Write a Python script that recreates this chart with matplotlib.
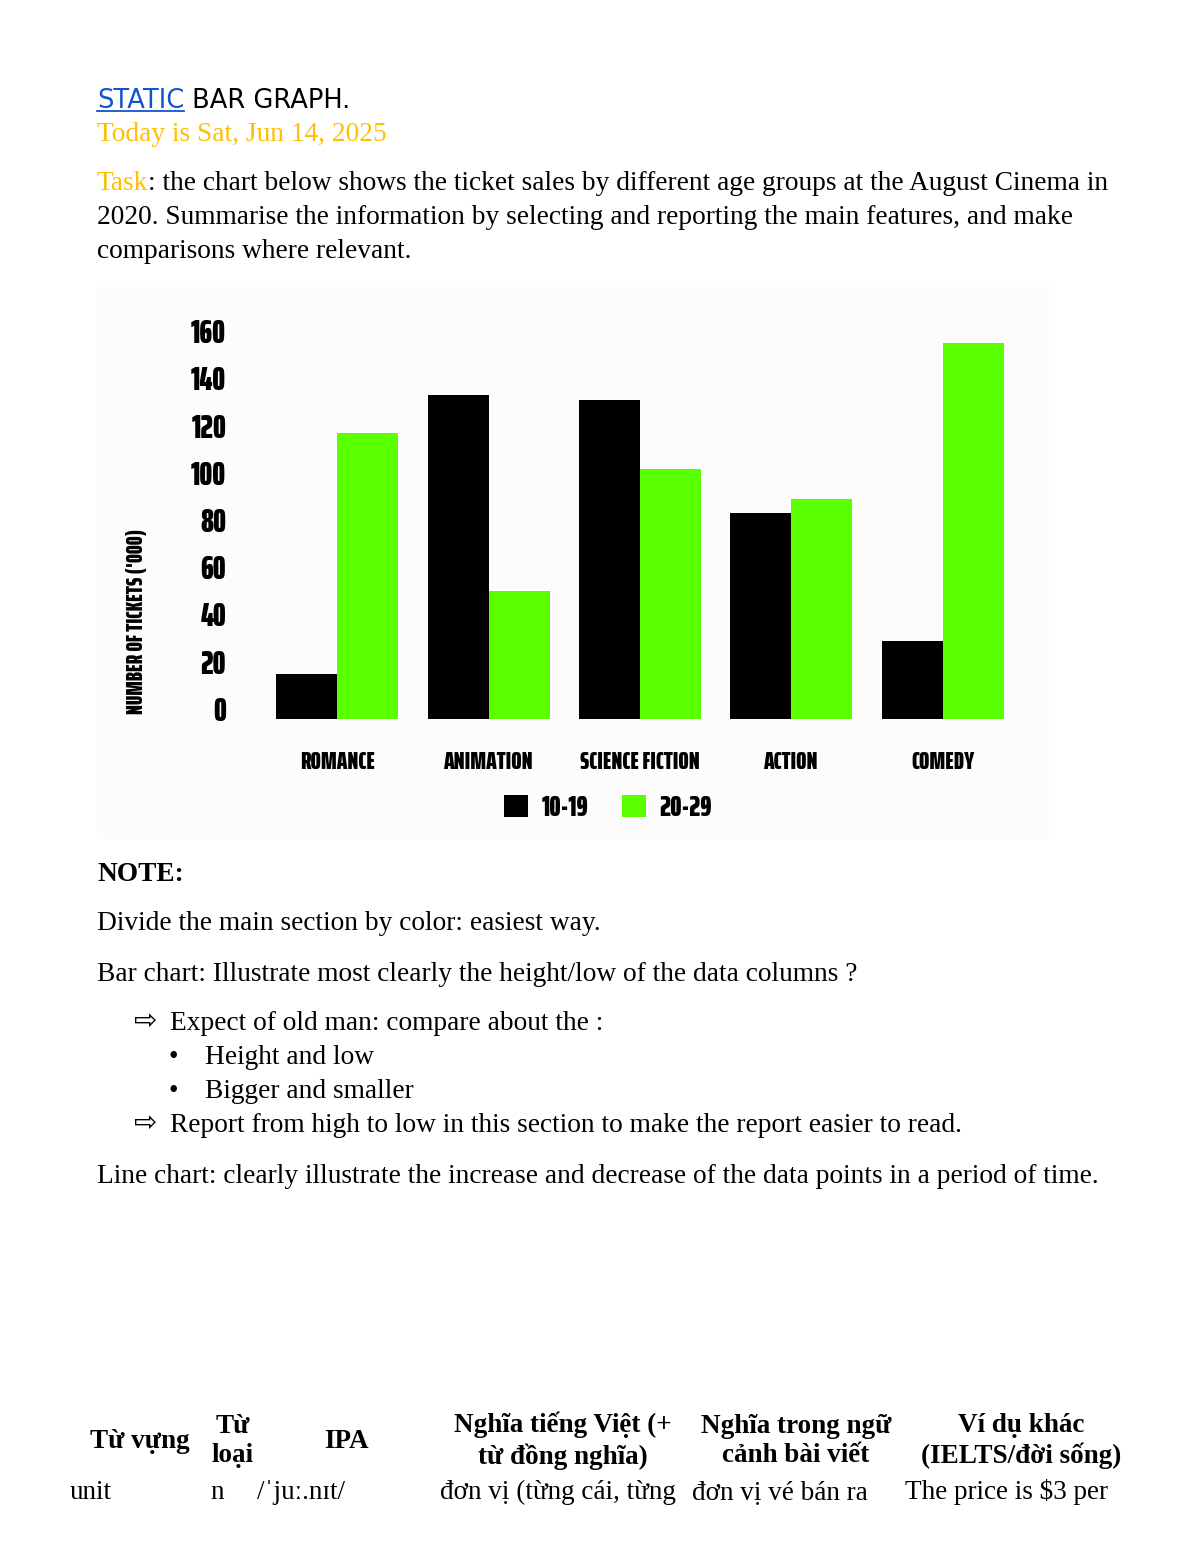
import matplotlib
matplotlib.use("Agg")
import matplotlib.pyplot as plt
import matplotlib.transforms as mtransforms
from matplotlib import font_manager as fm
import numpy as np

# chart data ('000 tickets)
genres = ["ROMANCE", "ANIMATION", "SCIENCE FICTION", "ACTION", "COMEDY"]
teens = [19, 137, 135, 87, 33]        # 10-19
twenties = [121, 54, 106, 93, 159]    # 20-29
age_groups = ["10-19", "20-29"]
yticks = [0, 20, 40, 60, 80, 100, 120, 140, 160]

# table rows under the notes
table_head = ["Từ vựng", "Từ\nloại", "IPA", "Nghĩa tiếng Việt (+\ntừ đồng nghĩa)",
              "Nghĩa trong ngữ\ncảnh bài viết", "Ví dụ khác\n(IELTS/đời sống)"]
table_row = ["unit", "n", "/ˈjuː.nɪt/", "đơn vị (từng cái, từng", "đơn vị vé bán ra",
             "The price is $3 per"]

W, H = 1200, 1553
fig = plt.figure(figsize=(W / 100, H / 100), dpi=100)
fig.patch.set_facecolor("white")
fig.canvas.draw()
r = fig.canvas.get_renderer()

def text_wh(s, fp):
    w, h, d = r.get_text_width_height_descent(s, fp, ismath=False)
    return w, h - d

# pick a bold condensed face whose proportions are closest to the chart's lettering
heavy = {"bold": 700, "heavy": 800, "black": 900, "semibold": 600, "demibold": 600,
         "extra bold": 800, "ultrabold": 800, "demi": 600}
target_ratio = 71 / 17
best, best_err = None, None
for f in fm.fontManager.ttflist:
    key = (f.name + " " + str(f.stretch) + " " + f.fname).lower()
    if not ("narrow" in key or "condensed" in key) or "mono" in key:
        continue
    w = f.weight if isinstance(f.weight, int) else heavy.get(str(f.weight).lower(), 400)
    if w < 600:
        continue
    try:
        fp = fm.FontProperties(fname=f.fname, size=20)
        tw = text_wh("ROMANCE", fp)[0]
        cap = text_wh("H", fp)[1]
    except Exception:
        continue
    err = abs(tw / cap - target_ratio)
    if best_err is None or err < best_err:
        best, best_err = f.fname, err

def chart_font(size):
    if best:
        return fm.FontProperties(fname=best, size=size)
    return fm.FontProperties(family="DejaVu Sans", weight="bold", size=size)

def fit(s, target_w, cap_px):
    # size half way between width match and cap-height match
    w10, c10 = text_wh(s, chart_font(10))[0], text_wh("H", chart_font(10))[1]
    return (10 * target_w / w10 + 10 * cap_px / c10) / 2

tick_size = fit("160", 37, 20)
cat_size = fit("ROMANCE", 71, 17)
ylab_size = fit("NUMBER OF TICKETS ('000)", 197, 14)
leg_size = fit("10-19", 46, 19)

# page axes in pixel units, y downwards
page = fig.add_axes([0, 0, 1, 1])
page.set_xlim(0, W)
page.set_ylim(H, 0)
page.axis("off")

serif = ["Liberation Serif", "DejaVu Serif"]
fs = 19.7
amber = "#ffc000"
green = "#5aff00"

# heading
t1 = page.text(97, 108, "STATIC", family="DejaVu Sans", fontsize=18.5, color="#1155cc", va="baseline")
w1 = t1.get_window_extent(renderer=r).width
page.plot([97, 97 + w1], [111, 111], color="#1155cc", lw=1.3)
page.text(97 + w1, 108, " BAR GRAPH.", family="DejaVu Sans", fontsize=18.5, color="black", va="baseline")
page.text(97, 141, "Today is Sat, Jun 14, 2025", family=serif, fontsize=fs, color=amber, va="baseline")

t2 = page.text(97, 190, "Task", family=serif, fontsize=fs, color=amber, va="baseline")
w2 = t2.get_window_extent(renderer=r).width
page.text(97 + w2, 190, ": the chart below shows the ticket sales by different age groups at the August Cinema in",
          family=serif, fontsize=fs, va="baseline")
page.text(97, 224, "2020. Summarise the information by selecting and reporting the main features, and make",
          family=serif, fontsize=fs, va="baseline")
page.text(97, 258, "comparisons where relevant.", family=serif, fontsize=fs, va="baseline")

# faint background of the pasted chart image
page.add_patch(plt.Rectangle((97, 282), 951, 556, color="#fcfcfc", zorder=0))

# chart axes: baseline at y=719 px, 2.3625 px per thousand tickets
ax_l, ax_r, ax_b, ax_t = 240, 1040, 719, 719 - 170 * 2.3625
ax = fig.add_axes([ax_l / W, 1 - ax_b / H, (ax_r - ax_l) / W, (ax_b - ax_t) / H])
ax.patch.set_alpha(0)
x = np.arange(len(genres))
bw = 0.403
b1 = ax.bar(x - bw / 2, teens, bw, color="black", label=age_groups[0])
b2 = ax.bar(x + bw / 2, twenties, bw, color=green, label=age_groups[1])
ax.set_xlim(-0.643, 4.643)
ax.set_ylim(0, 170)
for s in ax.spines.values():
    s.set_visible(False)
ax.set_yticks(yticks)
ax.set_yticklabels([str(v) for v in yticks], fontproperties=chart_font(tick_size))
ax.tick_params(axis="y", length=0, pad=10)
ax.set_xticks(x)
ax.set_xticklabels(genres, fontproperties=chart_font(cat_size))
ax.tick_params(axis="x", length=0, pad=22)
shift = mtransforms.ScaledTranslation(0, 10 / 100, fig.dpi_scale_trans)
for lab in ax.get_yticklabels():
    lab.set_transform(lab.get_transform() + shift)

page.text(137, 621, "NUMBER OF TICKETS ('000)", fontproperties=chart_font(ylab_size),
          rotation=90, ha="center", va="center")

fig.legend(handles=[b1, b2], loc="center", bbox_to_anchor=(608 / W, 1 - 808 / H), ncol=2,
           frameon=False, prop=chart_font(leg_size),
           handlelength=24 / (leg_size * 1.389), handleheight=24 / (leg_size * 1.389),
           handletextpad=14 / (leg_size * 1.389), columnspacing=33 / (leg_size * 1.389))

# notes
page.text(97, 881, "NOTE:", family=serif, fontsize=fs, fontweight="bold", va="baseline")
page.text(97, 930, "Divide the main section by color: easiest way.", family=serif, fontsize=fs, va="baseline")
page.text(97, 981, "Bar chart: Illustrate most clearly the height/low of the data columns ?",
          family=serif, fontsize=fs, va="baseline")
page.text(134, 1029, "⇨", family="DejaVu Sans", fontsize=20, va="baseline")
page.text(170, 1030, "Expect of old man: compare about the :", family=serif, fontsize=fs, va="baseline")
page.text(169, 1064, "•", family=serif, fontsize=fs, va="baseline")
page.text(205, 1064, "Height and low", family=serif, fontsize=fs, va="baseline")
page.text(169, 1098, "•", family=serif, fontsize=fs, va="baseline")
page.text(205, 1098, "Bigger and smaller", family=serif, fontsize=fs, va="baseline")
page.text(134, 1131, "⇨", family="DejaVu Sans", fontsize=20, va="baseline")
page.text(170, 1132, "Report from high to low in this section to make the report easier to read.",
          family=serif, fontsize=fs, va="baseline")
page.text(97, 1183, "Line chart: clearly illustrate the increase and decrease of the data points in a period of time.",
          family=serif, fontsize=fs, va="baseline")

# vocabulary table
head_x = [140, 233, 346, 563, 796, 1021]
for hx, h in zip(head_x, table_head):
    page.text(hx, 1441, h, family=serif, fontsize=19.5, fontweight="bold", ha="center", va="center",
              linespacing=1.25)
row_x = [70, 210, 257, 440, 692, 905]
for rx, c in zip(row_x, table_row):
    page.text(rx, 1499, c, family=serif, fontsize=19.5, va="baseline")

fig.savefig("out.png", dpi=100, facecolor="white")
